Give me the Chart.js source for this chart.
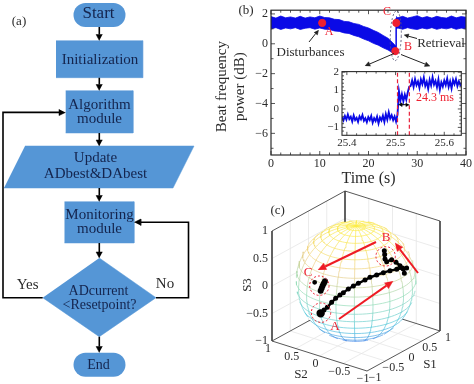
<!DOCTYPE html>
<html><head><meta charset="utf-8">
<style>
html,body{margin:0;padding:0;background:#fff;width:474px;height:384px;overflow:hidden}
canvas{position:absolute;filter:blur(0.45px)}
</style>
<script src="https://cdn.jsdelivr.net/npm/chart.js@4/dist/chart.umd.min.js"></script>
</head><body>
<canvas id="cSphere" width="474" height="384" style="left:0;top:0"></canvas>
<canvas id="cMain" width="262" height="190" style="left:212px;top:0"></canvas>
<canvas id="cInset" width="152" height="92" style="left:322px;top:62px"></canvas>
<canvas id="cOver" width="474" height="384" style="left:0;top:0"></canvas>
<script>
// ---- panel (b) main trace: envelope of the noisy beat power
const bandTime=[0,1,2,3,4,5,6,7,8,9,10,11,12,13,14,15,16,17,18,19,20,21,22,23,24,25,25.5,25.6,25.62,25.72,25.74,26,27,28,29,30,31,32,33,34,35,36,37,38,39,40];
const bandTop=[1.82,1.72,1.86,1.74,1.8,1.72,1.84,1.72,1.8,1.74,1.86,1.76,1.74,1.64,1.62,1.5,1.47,1.36,1.3,1.16,1.06,0.9,0.76,0.56,0.37,0.06,-0.12,-0.1,1.7,1.75,1.82,1.74,1.84,1.72,1.8,1.88,1.74,1.82,1.72,1.84,1.76,1.72,1.86,1.74,1.82,1.78];
const bandBottom=[1.0,1.08,0.96,1.06,1.0,1.08,0.96,1.04,1.08,0.98,1.06,0.98,0.96,0.86,0.83,0.73,0.69,0.56,0.47,0.32,0.2,0.03,-0.09,-0.27,-0.41,-0.62,-0.72,-0.7,-0.7,-0.6,0.98,1.06,0.97,1.08,1.0,0.96,1.06,0.99,1.08,0.97,1.05,1.0,1.08,0.97,1.05,1.0];
const markTime=[10.5,25.5,25.7];
const markPower=[1.4,-0.49,1.4];
const mainXTicks=[0,10,20,30,40];
const mainYTicks=[-6,-4,-2,0,2];
const mainXMinor=[2,4,6,8,12,14,16,18,22,24,26,28,32,34,36,38];
const mainYMinor=[-7,-5,-3,-1,1];
// ---- panel (b) inset
const insetTime=[25.390,25.393,25.396,25.399,25.402,25.405,25.408,25.411,25.414,25.417,25.420,25.423,25.426,25.429,25.432,25.435,25.438,25.441,25.444,25.447,25.450,25.453,25.456,25.459,25.462,25.465,25.468,25.471,25.474,25.477,25.480,25.483,25.486,25.489,25.492,25.495,25.498,25.501,25.504,25.507,25.510,25.513,25.516,25.519,25.522,25.525,25.528,25.531,25.534,25.537,25.540,25.543,25.546,25.549,25.552,25.555,25.558,25.561,25.564,25.567,25.570,25.573,25.576,25.579,25.582,25.585,25.588,25.591,25.594,25.597,25.600,25.603,25.606,25.609,25.612,25.615,25.618,25.621,25.624,25.627,25.630,25.633,25.636];
const insetPower=[-0.45,-0.62,-0.38,-0.58,-0.3,-0.55,-0.42,-0.68,-0.35,-0.6,-0.48,-0.7,-0.4,-0.56,-0.33,-0.64,-0.5,-0.72,-0.44,-0.6,-0.38,-0.74,-0.5,-0.66,-0.42,-0.78,-0.46,-0.62,-0.36,-0.7,-0.28,-0.58,-0.18,-0.52,-0.34,-0.6,-0.4,-0.68,-0.3,0.95,0.45,0.8,0.42,0.78,0.5,0.9,1.2,1.25,1.55,1.2,1.62,1.3,1.5,1.15,1.6,1.35,1.7,1.25,1.48,1.1,1.58,1.28,1.72,1.32,1.52,1.18,1.6,1.05,1.45,1.22,1.55,1.3,1.65,1.2,1.5,1.12,1.58,1.35,1.62,1.25,1.5,1.3,1.42];
const cutTimes=[25.504,25.5283];
const insetXTicks=[25.4,25.5,25.6];
const insetYTicks=[-1,0,1,2];
const insetXMinor=[25.42,25.44,25.46,25.48,25.52,25.54,25.56,25.58,25.62];
const insetYMinor=[-1.2,-0.8,-0.6,-0.4,-0.2,0.2,0.4,0.6,0.8,1.2,1.4,1.6,1.8];
// ---- panel (c) Poincare sphere: trajectory in view-plane coordinates of the unit sphere
const pathX=[-0.533,-0.478,-0.406,-0.339,-0.267,-0.211,-0.128,-0.044,0.039,0.15,0.233,0.344,0.456,0.567,0.678,0.772,0.844];
const pathY=[-0.483,-0.439,-0.356,-0.289,-0.233,-0.194,-0.133,-0.083,-0.039,0.017,0.061,0.1,0.139,0.172,0.194,0.217,0.217];
const branchBX=[0.806,0.789,0.733,0.667,0.594,0.511,0.483,0.478,0.472];
const branchBY=[0.128,0.2,0.256,0.311,0.356,0.322,0.367,0.44,0.506];
const branchCX=[-0.517,-0.537,-0.556,-0.572,-0.589];
const branchCY=[-0.006,-0.042,-0.078,-0.12,-0.161];
const pointAX=[-0.589], pointAY=[-0.539];
const pointCX=[-0.689], pointCY=[-0.022];
const sphereTicks=[-1,-0.5,0,0.5,1];
const meshLat=[-81,-72,-63,-54,-45,-36,-27,-18,-9,0,9,18,27,36,45,54,63,72,81];
const meshLon=[0,18,36,54,72,90,108,126,144,162,180,198,216,234,252,270,288,306,324,342];

const SERIF='"Liberation Serif",serif';
const DARK='#2b2b2b', BLUE='#0a0ae6', RED='#ee2030', NAVY='#14244d';

// ---------- helpers
function ds(points,o){return Object.assign({type:'scatter',data:points,showLine:true,pointRadius:0,tension:0,borderWidth:1,borderColor:DARK,backgroundColor:'transparent',clip:false},o||{});}
function pts(p){return p.map(a=>({x:a[0],y:a[1]}));}
function ordered(list){list.forEach((d,i)=>d.order=-i);return list;}
function arrow(list,a,b,color,w,hl,hw){
  const dx=b[0]-a[0],dy=b[1]-a[1],L=Math.hypot(dx,dy),ux=dx/L,uy=dy/L;
  const bx=b[0]-ux*hl,by=b[1]-uy*hl;
  list.push(ds(pts([a,[bx,by]]),{borderColor:color,borderWidth:w}));
  list.push(ds(pts([[b[0],b[1]],[bx-uy*hw,by+ux*hw],[bx+uy*hw,by-ux*hw]]),{borderColor:color,borderWidth:0.5,fill:'shape',backgroundColor:color}));
}
const textPlugin={id:'pageText',afterDraw(chart,_,opts){
  const c=chart.ctx;
  (opts.items||[]).forEach(t=>{
    c.save();c.translate(t.x,t.y);if(t.rot)c.rotate(t.rot);
    c.font=(t.weight?t.weight+' ':'')+t.size+'px '+SERIF;
    c.fillStyle=t.color||DARK;c.textAlign=t.align||'center';c.textBaseline='middle';
    c.fillText(t.text,0,0);c.restore();
  });
}};
const framePlugin={id:'frameTicks',afterDatasetsDraw(chart,_,o){
  const a=chart.chartArea,c=chart.ctx,X=chart.scales.x,Y=chart.scales.y;
  c.save();c.strokeStyle=DARK;c.lineWidth=o.width;
  c.strokeRect(a.left,a.top,a.right-a.left,a.bottom-a.top);
  c.lineWidth=0.8;c.beginPath();
  const xt=(v,l)=>{const p=X.getPixelForValue(v);c.moveTo(p,a.bottom);c.lineTo(p,a.bottom-l);c.moveTo(p,a.top);c.lineTo(p,a.top+l);};
  const yt=(v,l)=>{const p=Y.getPixelForValue(v);c.moveTo(a.left,p);c.lineTo(a.left+l,p);c.moveTo(a.right,p);c.lineTo(a.right-l,p);};
  o.xMajor.forEach(v=>xt(v,o.major));o.xMinor.forEach(v=>xt(v,o.minor));
  o.yMajor.forEach(v=>yt(v,o.major));o.yMinor.forEach(v=>yt(v,o.minor));
  c.stroke();c.restore();
}};
function minus(v){return String(v).replace('-','\u2212');}
const NOGRID={display:false,drawTicks:false};
function axisX(min,max,ticks,h,size,title,pad){return{type:'linear',min,max,afterBuildTicks(s){s.ticks=ticks.map(v=>({value:v}));},afterFit(s){s.height=h;},
  grid:NOGRID,border:{display:false},ticks:{autoSkip:false,maxRotation:0,padding:pad,color:DARK,font:{family:SERIF,size},callback:minus},
  title:title?{display:true,text:title,color:DARK,font:{family:SERIF,size:16},padding:{top:0,bottom:2}}:{display:false}};}
function axisY(min,max,ticks,w,size,title){return{type:'linear',min,max,afterBuildTicks(s){s.ticks=ticks.map(v=>({value:v}));},
  afterFit(s){s.width=w;
    if(title&&!s.shifted){s.shifted=true;const d=s.drawTitle;s.drawTitle=function(){const c=this.ctx;c.save();c.translate(0,4);d.call(this);c.restore();};}},
  grid:NOGRID,border:{display:false},ticks:{autoSkip:false,padding:3,color:DARK,font:{family:SERIF,size},callback:minus},
  title:title?{display:true,text:title,color:DARK,font:{family:SERIF,size:15,lineHeight:1.2},padding:{top:1,bottom:0}}:{display:false}};}
const base={responsive:false,animation:false,events:[]};

// ---------- panel (b)
new Chart(document.getElementById('cMain'),{type:'scatter',
  data:{datasets:ordered([
    ds(bandTime.map((t,i)=>({x:t,y:bandTop[i]})),{borderColor:BLUE,backgroundColor:BLUE,fill:'+1',borderWidth:0.8}),
    ds(bandTime.map((t,i)=>({x:t,y:bandBottom[i]})),{borderColor:BLUE,borderWidth:0.8}),
    ds(markTime.map((t,i)=>({x:t,y:markPower[i]})),{showLine:false,pointRadius:3.6,pointBackgroundColor:RED,pointBorderColor:RED})
  ])},
  options:Object.assign({},base,{layout:{autoPadding:false,padding:{top:7.5,right:7,left:0,bottom:0}},
    plugins:{legend:{display:false},tooltip:{enabled:false},
      frameTicks:{width:1.2,major:4,minor:2.5,xMajor:mainXTicks,xMinor:mainXMinor,yMajor:mainYTicks,yMinor:mainYMinor}},
    scales:{x:axisX(0,40,mainXTicks,35,12,'Time (s)',2),y:axisY(-7.45,2.25,mainYTicks,59,12,['Beat frequency','power (dB)'])}}),
  plugins:[framePlugin,{id:'ellipses',afterDatasetsDraw(chart){
    const c=chart.ctx,X=chart.scales.x,Y=chart.scales.y;
    c.save();c.strokeStyle='#5a5a7a';c.lineWidth=0.9;c.setLineDash([2,2]);
    c.beginPath();c.ellipse(X.getPixelForValue(25.6),Y.getPixelForValue(0.54),5.5,25,0.03,0,Math.PI*2);c.stroke();c.restore();
  }}]
});
// inset
new Chart(document.getElementById('cInset'),{type:'scatter',
  data:{datasets:ordered([
    ds(insetTime.map((t,i)=>({x:t,y:insetPower[i]})),{borderColor:BLUE,borderWidth:1.9,clip:true}),
    ds([{x:cutTimes[0],y:-1.43},{x:cutTimes[0],y:2.03}],{borderColor:'#e8203a',borderDash:[4,2.5],borderWidth:1.2}),
    ds([{x:cutTimes[1],y:-1.43},{x:cutTimes[1],y:2.03}],{borderColor:'#e8203a',borderDash:[4,2.5],borderWidth:1.2})
  ])},
  options:Object.assign({},base,{layout:{autoPadding:false,padding:{top:8.3,right:12.7,left:0,bottom:0}},
    plugins:{legend:{display:false},tooltip:{enabled:false},
      frameTicks:{width:1.1,major:3.5,minor:2,xMajor:insetXTicks,xMinor:insetXMinor,yMajor:insetYTicks,yMinor:insetYMinor}},
    scales:{x:axisX(25.39,25.635,insetXTicks,18.7,11,null,1),y:axisY(-1.43,2.03,insetYTicks,20,11)}}),
  plugins:[framePlugin]
});

// ---------- panel (c)
const VR=[36.5/60,-47.5/60,0],VU=[20/60,15/60,55/60],VF=[-0.724,-0.557,0.415];
const dot=(a,b)=>a[0]*b[0]+a[1]*b[1]+a[2]*b[2];
const proj=(s)=>({x:dot(s,VR),y:dot(s,VU)});
const STOPS=[[-1,[70,125,235]],[-0.5,[85,200,220]],[0,[150,220,185]],[0.5,[238,208,140]],[1,[252,236,70]]];
function meshColor(z){
  for(let i=1;i<STOPS.length;i++){if(z<=STOPS[i][0]){const a=STOPS[i-1],b=STOPS[i],t=Math.max(0,(z-a[0])/(b[0]-a[0]));
    return 'rgb('+a[1].map((v,k)=>Math.round(v+(b[1][k]-v)*t)).join(',')+')';}}
  return 'rgb(252,236,70)';
}
const R=Math.PI/180;
const onSphere=(lat,lon)=>[Math.cos(lat*R)*Math.cos(lon*R),Math.cos(lat*R)*Math.sin(lon*R),Math.sin(lat*R)];
const front=(s)=>dot(s,VF)>=-0.01;
const sphereSets=[];
// box: back walls and floor
const grid='#e6e6e6';
sphereTicks.forEach(v=>{
  if(Math.abs(v)===1)return;
  sphereSets.push(ds([proj([1,-1,v]),proj([1,1,v])],{borderColor:grid,borderWidth:0.8}));
  sphereSets.push(ds([proj([-1,1,v]),proj([1,1,v])],{borderColor:grid,borderWidth:0.8}));
  sphereSets.push(ds([proj([1,v,-1]),proj([1,v,1])],{borderColor:grid,borderWidth:0.8}));
  sphereSets.push(ds([proj([v,1,-1]),proj([v,1,1])],{borderColor:grid,borderWidth:0.8}));
  sphereSets.push(ds([proj([v,-1,-1]),proj([v,1,-1])],{borderColor:grid,borderWidth:0.8}));
  sphereSets.push(ds([proj([-1,v,-1]),proj([1,v,-1])],{borderColor:grid,borderWidth:0.8}));
});
[[[-1,1,1],[1,1,1]],[[1,1,1],[1,-1,1]],[[-1,1,1],[-1,1,-1]],[[1,-1,1],[1,-1,-1]],[[1,1,1],[1,1,-1]],
 [[-1,1,-1],[-1,-1,-1]],[[-1,-1,-1],[1,-1,-1]],[[-1,1,-1],[1,1,-1]],[[1,1,-1],[1,-1,-1]]].forEach(e=>{
  sphereSets.push(ds([proj(e[0]),proj(e[1])],{borderColor:'#444',borderWidth:0.9}));
});
// opaque body
sphereSets.push(ds([{x:0,y:0}],{showLine:false,pointRadius:60,pointBackgroundColor:'#fff',pointBorderWidth:0}));
// mesh: parallels and meridians
meshLat.forEach(lat=>{
  const p=[];for(let lon=0;lon<=360;lon+=4){const s=onSphere(lat,lon);p.push(front(s)?proj(s):{x:null,y:null});}
  sphereSets.push(ds(p,{borderColor:meshColor(Math.sin(lat*R)),borderWidth:0.7}));
});
meshLon.forEach(lon=>{
  const p=[],z=[];for(let lat=-90;lat<=90;lat+=3){const s=onSphere(lat,lon);p.push(front(s)?proj(s):{x:null,y:null});z.push(s[2]);}
  sphereSets.push(ds(p,{borderWidth:0.7,borderColor:meshColor(0),segment:{borderColor:c=>meshColor(z[c.p0DataIndex])}}));
});
// trajectory
const dots=(xs,ys,o)=>ds(xs.map((x,i)=>({x,y:ys[i]})),Object.assign({borderColor:'#000',borderWidth:2.4,pointRadius:1.3,pointBackgroundColor:'#000',pointBorderColor:'#000'},o||{}));
sphereSets.push(dots(pathX,pathY));
sphereSets.push(dots(branchBX,branchBY));
sphereSets.push(dots(branchCX,branchCY,{borderWidth:3.4}));
sphereSets.push(dots(pointAX,pointAY,{showLine:false,pointRadius:3}));
sphereSets.push(dots(pointCX,pointCY,{showLine:false,pointRadius:1.2}));
// tick labels of the box, placed from the axes' own values
const boxText=[];
sphereTicks.forEach(v=>{
  const ox=356,oy=281,S=60;
  const a=proj([-1,1,v]);boxText.push({text:minus(v),x:ox+S*a.x-4,y:oy-S*a.y,size:12,align:'right'});
  const b=proj([-1,v,-1]);boxText.push({text:minus(v),x:ox+S*b.x-4,y:oy-S*b.y+8,size:12});
  const d=proj([v,-1,-1]);boxText.push({text:minus(v),x:ox+S*d.x+8,y:oy-S*d.y+7,size:12});
});
boxText.push({text:'S3',x:248,y:285,size:13,rot:-Math.PI/2});
boxText.push({text:'S2',x:301,y:375,size:13});
boxText.push({text:'S1',x:430,y:365,size:13});
new Chart(document.getElementById('cSphere'),{type:'scatter',
  data:{datasets:ordered(sphereSets)},
  options:Object.assign({},base,{layout:{autoPadding:false,padding:0},
    plugins:{legend:{display:false},tooltip:{enabled:false},pageText:{items:boxText}},
    scales:{x:{display:false,min:-356/60,max:118/60},y:{display:false,min:-103/60,max:281/60}}}),
  plugins:[textPlugin,{id:'rings',afterDatasetsDraw(chart){
    const c=chart.ctx,X=chart.scales.x,Y=chart.scales.y;
    c.save();c.strokeStyle=RED;c.lineWidth=1;c.setLineDash([2,2]);
    [[-0.583,-0.528],[-0.611,-0.078],[0.494,0.411]].forEach(p=>{
      c.beginPath();c.arc(X.getPixelForValue(p[0]),Y.getPixelForValue(p[1]),9.7,0,Math.PI*2);c.stroke();});
    c.restore();
  }}]
});

// ---------- flowchart (a) and page annotations, in page pixels
const over=[];
const FILL='#5596d6';
const poly=(p)=>over.push(ds(pts(p),{fill:'shape',backgroundColor:FILL,borderColor:FILL,borderWidth:0.5}));
const rect=(x1,y1,x2,y2)=>poly([[x1,y1],[x2,y1],[x2,y2],[x1,y2]]);
const pill=(x1,x2,y)=>over.push(ds(pts([[x1,y],[x2,y]]),{borderColor:FILL,borderWidth:24,borderCapStyle:'round'}));
pill(85.5,113.5,15);
rect(56,40.7,142.7,77.7);
rect(65.7,90.7,133,133);
poly([[25,146],[194,146],[173,188],[4,188]]);
rect(64.5,201.7,134,243);
poly([[99.3,258],[156,297.7],[99.3,336.7],[42.7,297.7]]);
pill(85.5,113.5,364.7);
const K='#000';
const down=(y1,y2)=>arrow(over,[99.3,y1],[99.3,y2],K,1.6,6,3.2);
down(27,40.5);down(77.7,90.5);down(133,146);down(188,201.5);down(243,258);down(336.7,352.5);
over.push(ds(pts([[42.7,297.7],[3,297.7],[3,112.4],[58,112.4]]),{borderColor:K,borderWidth:1.6}));
arrow(over,[58,112.4],[65.5,112.4],K,1.6,6.5,3.2);
over.push(ds(pts([[156,297.7],[188.5,297.7],[188.5,222.3],[141,222.3]]),{borderColor:K,borderWidth:1.6}));
arrow(over,[141,222.3],[134.3,222.3],K,1.6,6.5,3.2);
// annotations on panel (b)
const G='#222';
arrow(over,[309,42],[318.5,30],G,1,4.5,2.2);
arrow(over,[417,38.5],[404,35],G,1,4.5,2.2);
arrow(over,[394,53.5],[365,66],G,1,5,2.4);
arrow(over,[401,54.5],[430,66],G,1,5,2.4);
arrow(over,[404,104.7],[398.4,104.7],K,1,3.5,1.8);
arrow(over,[404,104.7],[409.4,104.7],K,1,3.5,1.8);
// arrows on panel (c)
arrow(over,[339,319],[393,281],'#ee1c24',2,8,3.6);
arrow(over,[418,273],[395,243],'#ee1c24',2,8,3.6);
arrow(over,[376,242],[318,270],'#ee1c24',2,8,3.6);
const flowText=[
 {text:'(a)',x:19,y:22,size:13},
 {text:'Start',x:98.5,y:14,size:17,color:NAVY},
 {text:'Initialization',x:100,y:60,size:15,color:NAVY},
 {text:'Algorithm',x:99.5,y:105,size:15,color:NAVY},
 {text:'module',x:99.5,y:119,size:15,color:NAVY},
 {text:'Update',x:95.5,y:158,size:15,color:NAVY},
 {text:'ADbest&DAbest',x:95.5,y:174,size:15,color:NAVY},
 {text:'Monitoring',x:99.5,y:215.5,size:15,color:NAVY},
 {text:'module',x:99.5,y:229.5,size:15,color:NAVY},
 {text:'ADcurrent',x:98.5,y:291,size:14,color:NAVY},
 {text:'<Resetpoint?',x:99.5,y:305,size:14,color:NAVY},
 {text:'End',x:98.5,y:365,size:14,color:NAVY},
 {text:'Yes',x:27.7,y:285.5,size:15,color:DARK},
 {text:'No',x:165,y:284,size:15,color:DARK},
 {text:'(b)',x:246,y:11,size:13},
 {text:'A',x:329,y:32,size:12,color:RED},
 {text:'B',x:408,y:47,size:12,color:RED},
 {text:'C',x:387,y:12,size:12,color:RED},
 {text:'Disturbances',x:310.5,y:53,size:13},
 {text:'Retrieval',x:441,y:44,size:13},
 {text:'24.3 ms',x:435,y:98,size:12,color:RED},
 {text:'(c)',x:277.7,y:210.7,size:13},
 {text:'A',x:335,y:327,size:13,color:RED},
 {text:'B',x:386,y:238,size:13,color:RED},
 {text:'C',x:308,y:273,size:13,color:RED}
];
new Chart(document.getElementById('cOver'),{type:'scatter',
  data:{datasets:ordered(over)},
  options:Object.assign({},base,{layout:{autoPadding:false,padding:0},
    plugins:{legend:{display:false},tooltip:{enabled:false},pageText:{items:flowText}},
    scales:{x:{display:false,min:0,max:474},y:{display:false,min:0,max:384,reverse:true}}}),
  plugins:[textPlugin]
});
</script>
</body></html>
